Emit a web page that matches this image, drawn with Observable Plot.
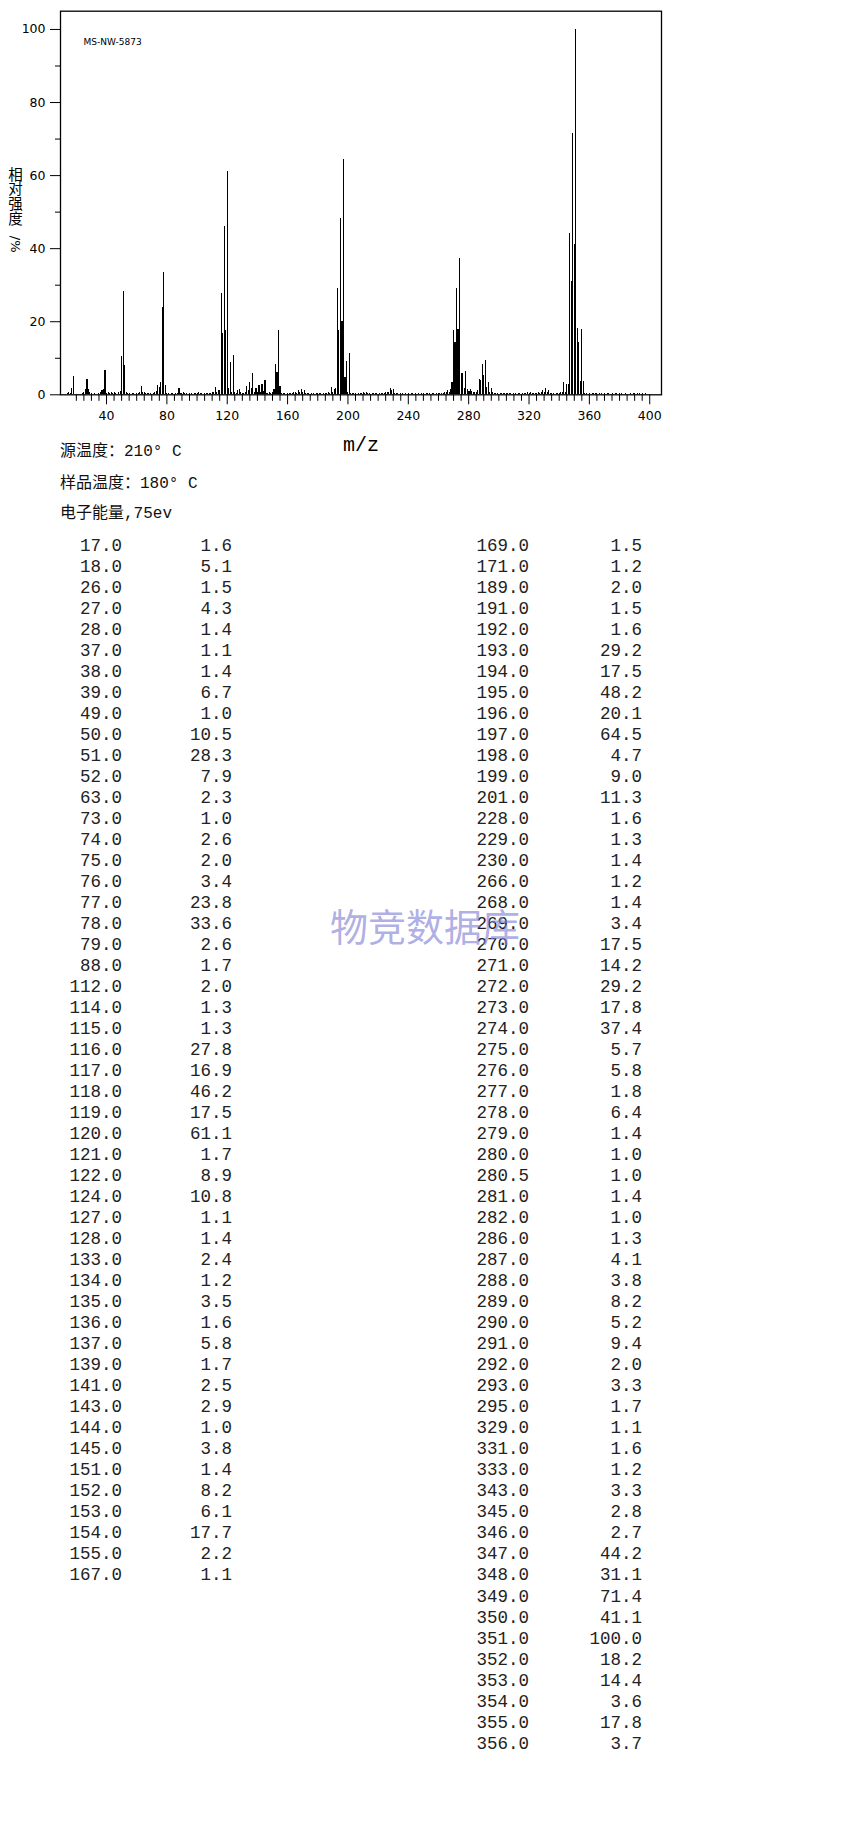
<!DOCTYPE html>
<html>
<head>
<meta charset="utf-8">
<script src="https://cdn.jsdelivr.net/npm/d3@7"></script>
<script src="https://cdn.jsdelivr.net/npm/@observablehq/plot@0.6"></script>
<style>
  html, body { margin: 0; padding: 0; background: #fff; }
  #page { position: relative; width: 850px; height: 1843px; overflow: hidden; }
  #chart { position: absolute; left: 0; top: 0; }
  .hdr { position: absolute; left: 60px; height: 20px; line-height: 20px; font-family: "Liberation Mono", "Noto Sans CJK SC", monospace; font-size: 16px; color: #111; white-space: pre; }
  .cell { position: absolute; height: 21px; line-height: 21px; text-align: right; font-family: "Liberation Mono", monospace; font-size: 17.5px; color: #222; white-space: pre; }
  #wm { position: absolute; left: 425px; top: 924px; transform: translate(-50%, -50%); font-family: "Noto Sans CJK SC", sans-serif; font-size: 38px; color: rgba(130, 130, 215, 0.65); white-space: nowrap; }
</style>
</head>
<body>
<div id="page">
  <div id="chart"></div>
  <div class="hdr" style="top:442px">源温度：210° C</div>
  <div class="hdr" style="top:473.5px">样品温度：180° C</div>
  <div class="hdr" style="top:504px">电子能量,75ev</div>
  <div id="table"></div>
  <div id="wm">物竞数据库</div>
</div>
<script>
// Listed peaks (m/z, relative intensity %)
const peakMz = [17,18,26,27,28,37,38,39,49,50,51,52,63,73,74,75,76,77,78,79,88,112,114,115,116,117,118,119,120,121,122,124,127,128,133,134,135,136,137,139,141,143,144,145,151,152,153,154,155,167,
  169,171,189,191,192,193,194,195,196,197,198,199,201,228,229,230,266,268,269,270,271,272,273,274,275,276,277,278,279,280,280.5,281,282,286,287,288,289,290,291,292,293,295,329,331,333,343,345,346,347,348,349,350,351,352,353,354,355,356];
const peakInt = [1.6,5.1,1.5,4.3,1.4,1.1,1.4,6.7,1.0,10.5,28.3,7.9,2.3,1.0,2.6,2.0,3.4,23.8,33.6,2.6,1.7,2.0,1.3,1.3,27.8,16.9,46.2,17.5,61.1,1.7,8.9,10.8,1.1,1.4,2.4,1.2,3.5,1.6,5.8,1.7,2.5,2.9,1.0,3.8,1.4,8.2,6.1,17.7,2.2,1.1,
  1.5,1.2,2.0,1.5,1.6,29.2,17.5,48.2,20.1,64.5,4.7,9.0,11.3,1.6,1.3,1.4,1.2,1.4,3.4,17.5,14.2,29.2,17.8,37.4,5.7,5.8,1.8,6.4,1.4,1.0,1.0,1.4,1.0,1.3,4.1,3.8,8.2,5.2,9.4,2.0,3.3,1.7,1.1,1.6,1.2,3.3,2.8,2.7,44.2,31.1,71.4,41.1,100.0,18.2,14.4,3.6,17.8,3.7];

// Small unlisted baseline peaks
const noise = [
  [14,0.3],[15,0.6],[16,0.4],[19,0.2],[22,0.2],[24,0.3],[25,0.6],[29,0.5],[30,0.3],[31,0.2],[32,0.3],[35,0.3],[36,0.6],
  [40,0.4],[41,0.5],[42,0.3],[43,0.5],[44,0.4],[45,0.6],[46,0.3],[48,0.5],[53,0.5],[54,0.3],[55,0.4],[57,0.4],[58,0.3],
  [60,0.3],[61,0.4],[62,0.6],[64,0.6],[65,0.5],[66,0.4],[67,0.3],[68,0.4],[69,0.3],[71,0.4],[72,0.5],[80,0.3],[81,0.4],[83,0.4],
  [84,0.3],[86,0.4],[87,0.3],[89,0.4],[90,0.4],[91,0.5],[92,0.3],[93,0.4],[95,0.4],[96,0.3],[98,0.3],[99,0.4],[100,0.4],
  [101,0.6],[102,0.4],[103,0.3],[105,0.4],[106,0.3],[107,0.4],[108,0.4],[109,0.3],[110,0.5],[111,0.6],[113,0.6],[123,0.5],[125,0.6],[126,0.4],
  [129,0.5],[130,0.4],[131,0.3],[132,0.5],[138,0.6],[140,0.5],[142,0.6],[146,0.4],[147,0.3],[148,0.5],[149,0.4],[150,0.6],[156,0.4],[157,0.3],[158,0.4],
  [160,0.3],[161,0.4],[162,0.3],[163,0.4],[164,0.6],[165,0.5],[166,0.4],[168,0.6],[170,0.5],[172,0.4],[173,0.3],[174,0.4],[176,0.3],
  [177,0.4],[179,0.3],[180,0.4],[181,0.3],[182,0.4],[184,0.3],[185,0.4],[186,0.4],[187,0.5],[188,0.4],[190,0.6],[200,0.6],[202,0.4],
  [203,0.3],[204,0.4],[205,0.3],[207,0.4],[208,0.3],[209,0.4],[210,0.5],[211,0.4],[212,0.5],[213,0.3],[214,0.4],[216,0.3],[217,0.4],
  [218,0.3],[219,0.4],[221,0.4],[222,0.3],[223,0.4],[224,0.4],[225,0.5],[226,0.6],[227,0.5],[231,0.4],[232,0.3],[233,0.4],[235,0.3],
  [236,0.4],[238,0.3],[240,0.3],[242,0.3],[243,0.4],[245,0.3],[247,0.3],[249,0.4],[250,0.3],
  [252,0.4],[253,0.3],[254,0.4],[256,0.3],[257,0.4],[259,0.3],[260,0.4],[261,0.3],[262,0.4],[263,0.4],[264,0.5],[265,0.6],
  [267,0.6],[283,0.6],[284,0.5],[285,0.6],[294,0.6],[296,0.5],[297,0.4],[298,0.3],[299,0.4],[301,0.3],[302,0.4],[303,0.3],[304,0.4],[305,0.4],
  [306,0.3],[307,0.4],[308,0.3],[310,0.4],[311,0.3],[313,0.3],[314,0.4],[316,0.3],[317,0.4],[318,0.4],[319,0.5],[320,0.4],
  [321,0.6],[322,0.4],[323,0.3],[324,0.4],[325,0.4],[326,0.5],[327,0.4],[328,0.6],[330,0.6],[332,0.5],[334,0.4],[335,0.4],[336,0.3],[338,0.4],
  [339,0.3],[340,0.4],[341,0.6],[342,0.5],[344,0.6],[357,0.4],[358,0.3],[360,0.3],[362,0.4],[363,0.3],[364,0.4],[365,0.4],
  [367,0.3],[368,0.4],[370,0.3],[372,0.3],[373,0.4],[375,0.3],[377,0.3],[378,0.3],[380,0.3],[381,0.3],
  [384,0.3],[387,0.3],[389,0.4],[390,0.3],[392,0.4],[393,0.3],[395,0.3],[397,0.3]
];

// Axis ticks
const xMajorTicks = [40,80,120,160,200,240,280,320,360,400];
const xMinorTicks = [20,25,30,35,45,50,55,60,65,70,75,85,90,95,100,105,110,115,125,130,135,140,145,150,155,165,170,175,180,185,190,195,
  205,210,215,220,225,230,235,245,250,255,260,265,270,275,285,290,295,300,305,310,315,325,330,335,340,345,350,355,365,370,375,380,385,390,395];
const yMajorTicks = [0,20,40,60,80,100];
const yMinorTicks = [10,30,50,70,90];

const sampleId = "MS-NW-5873";
const xLabel = "m/z";
const yLabelChars = "相\n对\n强\n度";
const yLabelUnit = "/%";

const peaks = peakMz.map((mz, i) => ({mz, int: peakInt[i]}));
const noisePeaks = noise.map(([mz, int]) => ({mz, int}));

const chart = Plot.plot({
  width: 850,
  height: 460,
  marginLeft: 60,
  marginRight: 189,
  marginTop: 10.7,
  marginBottom: 65.7,
  x: {domain: [9.5, 407.8]},
  y: {domain: [0, 105]},
  style: {fontFamily: "DejaVu Sans, sans-serif", fontSize: "12.5px", color: "#000", background: "transparent", overflow: "visible"},
  marks: [
    Plot.ruleX(noisePeaks, {x: "mz", y1: 0, y2: "int", stroke: "#000", strokeWidth: 1, shapeRendering: "crispEdges"}),
    Plot.ruleX(peaks, {x: "mz", y1: 0, y2: "int", stroke: "#000", strokeWidth: 1.2, shapeRendering: "crispEdges"}),
    Plot.frame({stroke: "#000", strokeWidth: 1.3}),
    Plot.axisX({ticks: xMajorTicks, tickSize: 10, tickPadding: 6, label: null, fontSize: 12.5}),
    Plot.axisX({ticks: xMinorTicks, tickSize: 6.5, text: null, label: null}),
    Plot.axisY({ticks: yMajorTicks, tickSize: 10, tickPadding: 5, label: null, fontSize: 12.5}),
    Plot.axisY({ticks: yMinorTicks, tickSize: 5, text: null, label: null}),
    Plot.text([sampleId], {frameAnchor: "top-left", dx: 23, dy: 31, textAnchor: "start", lineAnchor: "middle", fontSize: 9, fill: "#000"}),
    Plot.text([xLabel], {frameAnchor: "bottom", dy: 50, textAnchor: "middle", lineAnchor: "middle", fontSize: 20, fontFamily: "Liberation Mono, monospace", fill: "#000"}),
    Plot.text([yLabelChars], {frameAnchor: "top-left", dx: -45, dy: 158, textAnchor: "middle", lineAnchor: "top", lineHeight: 1.02, fontSize: 14.5, fontFamily: "Noto Sans CJK SC, sans-serif", fill: "#000"}),
    Plot.text([yLabelUnit], {frameAnchor: "top-left", dx: -45, dy: 233, textAnchor: "middle", lineAnchor: "middle", rotate: 90, fontSize: 13, fontFamily: "DejaVu Sans, sans-serif", fill: "#000"})
  ]
});
document.getElementById("chart").appendChild(chart);

// Peak table below the chart
const table = document.getElementById("table");
const fmt = v => v.toFixed(1);
const leftCount = 50;
function cell(text, right, width, top) {
  const d = document.createElement("div");
  d.className = "cell";
  d.style.left = (right - width) + "px";
  d.style.width = width + "px";
  d.style.top = top + "px";
  d.textContent = text;
  table.appendChild(d);
}
peaks.forEach((p, i) => {
  const col = i < leftCount ? 0 : 1;
  const row = col === 0 ? i : i - leftCount;
  const top = 546 + row * 21.02 - 10.5;
  if (col === 0) {
    cell(fmt(p.mz), 122, 80, top);
    cell(fmt(p.int), 232, 80, top);
  } else {
    cell(fmt(p.mz), 529, 80, top);
    cell(fmt(p.int), 642, 80, top);
  }
});
</script>
</body>
</html>
